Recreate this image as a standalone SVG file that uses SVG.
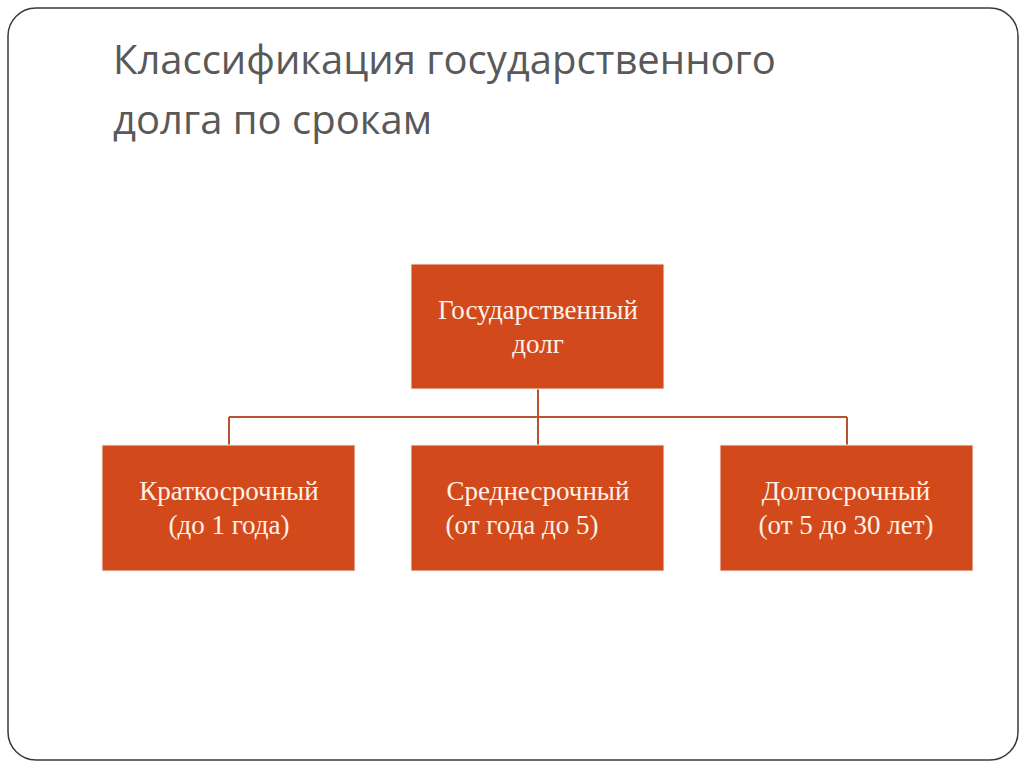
<svg xmlns="http://www.w3.org/2000/svg" width="1024" height="767" viewBox="0 0 1024 767">
<style>
.box{fill:#d24a1b;stroke:#f0f0f0;stroke-width:1}
.bt{font-family:"Liberation Serif","DejaVu Serif",serif;font-size:27px;fill:#fdf1ea;text-anchor:middle}
.title{font-family:"Open Sans","Liberation Sans",sans-serif;font-size:40px;fill:#595959}
.con{stroke:#b5542f;stroke-width:2;fill:none}
</style>
<rect width="1024" height="767" fill="#ffffff"/>
<rect x="8" y="8" width="1010" height="752" rx="28" fill="#fff" stroke="#3a3a3a" stroke-width="1.5"/>
<text class="title" x="113" y="74">Классификация государственного</text>
<text class="title" x="113" y="134">долга по срокам</text>
<g id="connectors">
<path class="con" d="M538 389V445M229 417H847M229 417V445M847 417V445"/>
</g>
<g id="root"><rect class="box" x="411" y="264" width="253" height="125"/>
<text class="bt" x="538" y="319">Государственный</text><text class="bt" x="538" y="353">долг</text></g>
<g id="short"><rect class="box" x="102" y="445" width="253" height="126"/>
<text class="bt" x="229" y="500">Краткосрочный</text><text class="bt" x="229" y="534">(до 1 года)</text></g>
<g id="mid"><rect class="box" x="411" y="445" width="253" height="126"/>
<text class="bt" x="538" y="500">Среднесрочный</text><text class="bt" x="522" y="534">(от года до 5)</text></g>
<g id="long"><rect class="box" x="720" y="445" width="253" height="126"/>
<text class="bt" x="846" y="500">Долгосрочный</text><text class="bt" x="846" y="534">(от 5 до 30 лет)</text></g>
</svg>
